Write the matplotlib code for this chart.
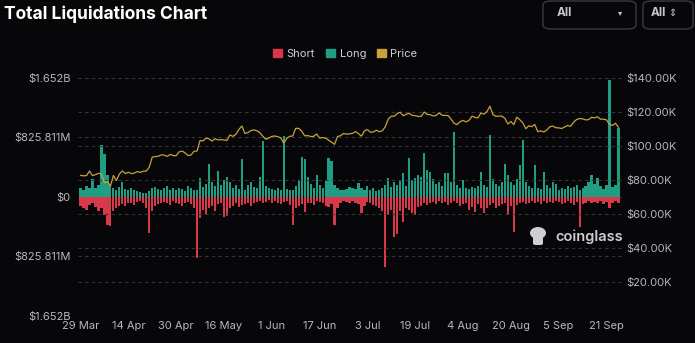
import numpy as np
import pandas as pd
import matplotlib.pyplot as plt
from matplotlib.patches import Patch, FancyBboxPatch, Ellipse

plt.rcParams['font.family'] = ['Inter', 'DejaVu Sans']

# daily data, 29 Mar 2025 - 25 Sep 2025
dates = pd.date_range("2025-03-29", "2025-09-25", freq="D")

# long liquidations, $M (drawn upwards)
long_liq = [
    130, 100, 150, 120, 250, 130, 170, 720, 600, 300,
    160, 120, 90, 140, 200, 110, 90, 130, 100, 80,
    70, 60, 50, 80, 120, 140, 110, 90, 130, 150,
    100, 120, 90, 130, 110, 80, 150, 120, 100, 90,
    265, 140, 180, 460, 200, 150, 360, 170, 230, 280,
    200, 130, 160, 110, 530, 100, 170, 210, 140, 120,
    280, 770, 150, 120, 110, 90, 130, 100, 850, 110,
    90, 100, 150, 230, 555, 520, 280, 180, 130, 300,
    170, 130, 240, 540, 500, 160, 120, 100, 90, 110,
    140, 130, 110, 195, 120, 100, 150, 90, 130, 80,
    100, 130, 160, 265, 140, 200, 170, 240, 330, 150,
    540, 230, 260, 300, 280, 610, 380, 350, 250, 180,
    200, 150, 330, 330, 210, 900, 170, 130, 236, 120,
    110, 140, 120, 150, 350, 160, 140, 860, 250, 180,
    150, 210, 460, 300, 200, 170, 250, 445, 790, 200,
    150, 130, 445, 120, 110, 350, 160, 120, 210, 180,
    100, 130, 110, 150, 120, 140, 170, 100, 130, 150,
    200, 300, 180, 265, 150, 110, 170, 1620, 140, 170,
    960,
]

# short liquidations, $M (drawn downwards)
short_liq = [
    120, 150, 180, 110, 90, 140, 200, 160, 250, 390,
    400, 200, 150, 120, 100, 130, 90, 80, 110, 70,
    60, 90, 160, 500, 200, 120, 100, 80, 70, 90,
    110, 60, 80, 100, 120, 90, 70, 100, 150, 850,
    290, 180, 250, 150, 120, 200, 100, 90, 280, 260,
    150, 120, 90, 140, 110, 100, 80, 120, 90, 70,
    60, 80, 70, 50, 90, 60, 80, 100, 70, 60,
    110, 390, 150, 120, 100, 210, 90, 80, 110, 60,
    70, 90, 120, 140, 100, 390, 150, 80, 60, 70,
    90, 60, 80, 100, 220, 120, 70, 90, 110, 130,
    150, 200, 970, 250, 180, 550, 520, 200, 350, 150,
    180, 230, 250, 140, 120, 90, 110, 80, 70, 100,
    60, 90, 70, 110, 80, 60, 90, 120, 100, 80,
    180, 140, 210, 100, 150, 220, 160, 110, 90, 150,
    120, 100, 80, 250, 130, 490, 110, 90, 70, 100,
    80, 60, 90, 70, 100, 60, 80, 70, 90, 60,
    70, 100, 80, 60, 90, 110, 70, 420, 100, 80,
    60, 90, 70, 80, 60, 100, 70, 150, 90, 60,
    80,
]

# BTC price, $K
price = [
    82.6, 82.4, 82.5,
    85.2, 82.5, 83.1, 83.8, 83.5, 78.2, 79.2, 76.3, 82.6, 79.6,
    83.4, 85.3, 83.7, 84.5, 83.7, 84.0, 84.9, 84.4, 85.1, 85.2,
    87.5, 93.4, 93.7, 93.9, 94.7, 94.6, 93.8, 95.0, 94.3, 94.2,
    96.5, 96.9, 95.9, 94.3, 94.7, 96.8, 97.0, 103.2, 102.9, 104.6,
    104.1, 102.8, 104.2, 103.5, 103.7, 103.5, 103.2, 106.4, 105.6, 106.8,
    109.7, 111.7, 107.3, 107.8, 109.0, 109.4, 108.9, 107.8, 105.6, 103.9, 104.6,
    105.6, 105.8, 105.4, 104.7, 101.6, 104.4, 105.6, 105.8, 110.3, 110.3,
    108.7, 105.9, 106.1, 105.5, 105.6, 107.0, 104.6, 104.9, 104.6, 103.3,
    102.2, 100.9, 105.5, 106.0, 107.3, 106.9, 107.1, 107.3, 108.4, 107.2,
    105.7, 108.8, 109.6, 108.0, 108.2, 109.2, 108.3, 108.9, 111.3, 115.9,
    117.5, 117.4, 119.1, 119.8, 117.7, 118.6, 119.2, 117.9, 117.8, 117.3,
    117.4, 119.9, 118.5, 118.3, 117.6, 117.9, 119.4, 118.0, 117.9, 117.8, 115.7,
    113.3, 112.5, 114.2, 115.0, 114.1, 115.0, 117.5, 116.7, 116.5, 119.3,
    118.7, 120.2, 123.3, 118.4, 117.4, 117.5, 117.5, 116.2, 112.9, 114.3,
    112.5, 116.9, 115.4, 113.5, 110.1, 111.8, 111.3, 112.6, 108.4, 108.8, 108.2,
    109.2, 111.2, 111.7, 110.7, 110.6, 110.2, 111.1, 112.0, 111.5, 113.9,
    115.5, 116.1, 115.9, 115.3, 115.4, 116.8, 116.5, 117.1, 115.7, 115.7,
    115.3, 112.7, 112.0, 113.3, 111.0,
]

tick_dates = pd.date_range("2025-03-29", periods=12, freq="16D")
tick_labels = [f"{d.day} {d:%b}" for d in tick_dates]

left_ticks = [-1652, -825.811, 0, 825.811, 1652]
left_labels = ["$1.652B", "$825.811M", "$0", "$825.811M", "$1.652B"]
right_ticks = [20, 40, 60, 80, 100, 120, 140]
right_labels = [f"${v:.2f}K" for v in right_ticks]

bg = "#07070a"
teal = "#1f9e83"
red = "#d8384a"
gold = "#c9a13b"
txt = "#b8b8bc"
grid = "#34343a"

fig = plt.figure(figsize=(6.95, 3.43), dpi=100, facecolor=bg)
ax = fig.add_axes([0.112, 0.079, 0.783, 0.694])
ax.set_facecolor(bg)

ax.bar(dates, long_liq, width=0.72, color=teal, zorder=2)
ax.bar(dates, [-v for v in short_liq], width=0.72, color=red, zorder=2)

ax.set_ylim(-1652, 1652)
ax.set_xlim(dates[0] - pd.Timedelta(days=0.9), dates[-1] + pd.Timedelta(days=1.2))
ax.set_yticks(left_ticks)
ax.set_yticklabels(left_labels)
ax.set_xticks(tick_dates)
ax.set_xticklabels(tick_labels)
ax.tick_params(axis='both', length=0, colors=txt, labelsize=8)
ax.tick_params(axis='y', pad=5)
ax.tick_params(axis='x', pad=4)
ax.grid(axis='y', color=grid, linestyle=(0, (3, 3)), linewidth=0.8, zorder=0)
for s in ax.spines.values():
    s.set_visible(False)

ax2 = ax.twinx()
ax2.plot(dates, price, color=gold, linewidth=0.9, zorder=3)
ax2.set_ylim(0, 140)
ax2.set_yticks(right_ticks)
ax2.set_yticklabels(right_labels)
ax2.tick_params(axis='y', length=0, colors=txt, labelsize=8, pad=3)
ax2.grid(axis='y', color=grid, linestyle=(0, (3, 3)), linewidth=0.8, zorder=0)
ax2.axhline(0, color=grid, linestyle=(0, (3, 3)), linewidth=0.8)
for s in ax2.spines.values():
    s.set_visible(False)

# title
fig.text(0.006, 0.958, "Total Liquidations Chart", color="white", fontsize=12.5,
         fontweight="bold", va="center", ha="left")

# dropdown boxes
for x0, w in [(543, 93), (643, 50)]:
    box = FancyBboxPatch((x0 / 695, 1 - 29 / 343), w / 695, 28 / 343,
                         boxstyle="round,pad=0,rounding_size=0.012",
                         transform=fig.transFigure, facecolor=bg,
                         edgecolor="#3a3a40", linewidth=1.0)
    fig.add_artist(box)
fig.text(557 / 695, 1 - 13 / 343, "All", color="#c8c8cc", fontsize=8.5,
         fontweight="bold", va="center")
fig.text(620 / 695, 1 - 13 / 343, "\u25be", color="#c8c8cc", fontsize=6,
         va="center", ha="center", family=["DejaVu Sans"])
fig.text(651 / 695, 1 - 13 / 343, "All", color="#c8c8cc", fontsize=8.5,
         fontweight="bold", va="center")
fig.text(672 / 695, 1 - 13 / 343, "\u21d5", color="#c8c8cc", fontsize=7,
         va="center", ha="center", family=["DejaVu Sans"])

# legend
handles = [Patch(color=red, label="Short"), Patch(color=teal, label="Long"),
           Patch(color=gold, label="Price")]
leg = fig.legend(handles=handles, loc="center", bbox_to_anchor=(0.497, 1 - 54 / 343),
                 ncol=3, frameon=False, fontsize=8, handlelength=0.8,
                 handleheight=0.8, handletextpad=0.4, columnspacing=1.0)
for t in leg.get_texts():
    t.set_color("#d0d0d4")

# watermark
fig.text(555 / 695, 1 - 237 / 343, "coinglass", color="#cfcfd2", fontsize=10.5,
         fontweight="semibold", va="center", ha="left")
icon = [
    Ellipse((538 / 695, 1 - 233 / 343), 16 / 695, 12 / 343),
    FancyBboxPatch((533 / 695, 1 - 245 / 343), 10 / 695, 10 / 343,
                   boxstyle="round,pad=0,rounding_size=0.004"),
]
for p in icon:
    p.set_transform(fig.transFigure)
    p.set_facecolor("#cfcfd2")
    p.set_edgecolor("none")
    fig.add_artist(p)

fig.savefig("out.png", dpi=100, facecolor=bg)
